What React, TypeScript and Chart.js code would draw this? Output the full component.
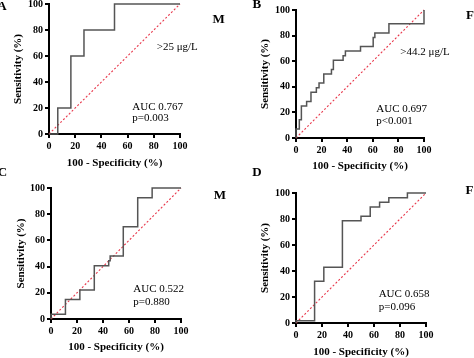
import React, { useEffect, useRef } from 'react';
import { Chart, registerables } from 'chart.js';

Chart.register(...registerables);

const CANVAS_W = 474;
const CANVAS_H = 358;
const SERIF = '"Liberation Serif", "Times New Roman", serif';

// ---- data (ROC vertices: 100 - specificity %, sensitivity %) ----
const aFpr = [0, 6.7, 6.7, 16.7, 16.7, 26.7, 26.7, 50, 50, 100];
const aSens = [0, 0, 20, 20, 60, 60, 80, 80, 100, 100];

const bFpr = [0, 0, 2.6, 2.6, 4.2, 4.2, 8.3, 8.3, 11.7, 11.7, 15.9, 15.9, 18, 18, 21.7, 21.7, 27.7, 27.7, 29.2, 29.2, 36.8, 36.8, 38.6, 38.6, 50.4, 50.4, 60.3, 60.3, 61.6, 61.6, 72.6, 72.6, 100, 100];
const bSens = [0, 7.1, 7.1, 14.3, 14.3, 25, 25, 28.6, 28.6, 35.7, 35.7, 39.3, 39.3, 42.9, 42.9, 50, 50, 53.6, 53.6, 60.7, 60.7, 64.3, 64.3, 67.9, 67.9, 71.4, 71.4, 78.6, 78.6, 82.1, 82.1, 89.3, 89.3, 100];

const cFpr = [0, 0, 11.1, 11.1, 22.2, 22.2, 33.3, 33.3, 44.4, 44.4, 45.5, 45.5, 55.6, 55.6, 66.7, 66.7, 77.8, 77.8, 100];
const cSens = [0, 3.7, 3.7, 14.8, 14.8, 22.2, 22.2, 40.7, 40.7, 44.4, 44.4, 48.1, 48.1, 70.4, 70.4, 92.6, 92.6, 100, 100];

const dFpr = [0, 0, 14.3, 14.3, 21.4, 21.4, 35.7, 35.7, 50, 50, 57.1, 57.1, 64.3, 64.3, 71.4, 71.4, 85.7, 85.7, 100];
const dSens = [0, 1.8, 1.8, 32.1, 32.1, 42.9, 42.9, 78.6, 78.6, 82.1, 82.1, 89.3, 89.3, 92.9, 92.9, 96.4, 96.4, 100, 100];

const diagX = [0, 100];
const diagY = [0, 100];

const axisTicks = [0, 20, 40, 60, 80, 100];
const xTitle = '100 - Specificity (%)';
const yTitle = 'Sensitivity (%)';

const panelLetters = ['A', 'B', 'C', 'D'];
const sexLabels = ['M', 'F', 'M', 'F'];
const cutoffLabels = ['>25 μg/L', '>44.2 μg/L', '', ''];
const aucLabels = ['AUC 0.767', 'AUC 0.697', 'AUC 0.522', 'AUC 0.658'];
const pLabels = ['p=0.003', 'p<0.001', 'p=0.880', 'p=0.096'];

// ---- layout (pixel boxes of each plot area and its axis titles) ----
const layouts = [
  { l: 49, r: 180, t: 4, b: 134, yTitleX: 18, xTitleY: 163,
    letter: [-35.9, 97.7], sex: [129.4, 88.2], cut: [82.2, 67.2], auc: [63.6, 20.5], p: [63.6, 12.1] },
  { l: 296, r: 424, t: 10, b: 138, yTitleX: 265, xTitleY: 166,
    letter: [-30.5, 103.9], sex: [135.9, 95.7], cut: [81.5, 67.4], auc: [62.7, 22.7], p: [62.7, 13.5] },
  { l: 51, r: 181, t: 188, b: 319, yTitleX: 21, xTitleY: 347,
    letter: [-37.3, 111.5], sex: [130, 93.9], cut: [0, 0], auc: [63.3, 22.9], p: [63.3, 13.2] },
  { l: 296, r: 426, t: 193, b: 323, yTitleX: 265, xTitleY: 352,
    letter: [-30, 115.4], sex: [133.5, 101.9], cut: [0, 0], auc: [63.6, 22.3], p: [63.6, 12.5] },
];

const curves = [
  [aFpr, aSens],
  [bFpr, bSens],
  [cFpr, cSens],
  [dFpr, dSens],
];

const toPoints = (xs: number[], ys: number[]) => xs.map((v, i) => ({ x: v, y: ys[i] }));

const textPlugin = {
  id: 'panelText',
  afterDraw(chart: any, _args: any, opts: any) {
    const { ctx } = chart;
    const xs = chart.scales.x;
    const ys = chart.scales.y;
    ctx.save();
    for (const t of opts.items || []) {
      if (!t.text) continue;
      ctx.font = t.font;
      ctx.fillStyle = '#000';
      ctx.textAlign = t.align;
      ctx.textBaseline = 'middle';
      ctx.fillText(t.text, xs.getPixelForValue(t.x), ys.getPixelForValue(t.y));
    }
    ctx.restore();
  },
};

function buildConfig(i: number): any {
  const L = layouts[i];
  const half = 5.5;
  const xAxisH = L.xTitleY + half - L.b;
  const yBoxLeft = L.yTitleX - half;
  const yAxisW = L.l - yBoxLeft;
  const tickFont = { family: SERIF, weight: 'bold', size: 10 };
  const titleFont = { family: SERIF, weight: 'bold', size: 11, lineHeight: 1 };
  const [fx, sy] = curves[i];
  const normal = `11px ${SERIF}`;
  const bold = `bold 13px ${SERIF}`;
  return {
    type: 'scatter',
    data: {
      datasets: [
        {
          data: toPoints(diagX, diagY),
          showLine: true,
          borderColor: '#e8364a',
          borderWidth: 1.1,
          borderDash: [2, 2],
          pointRadius: 0,
          clip: false,
          order: 2,
        },
        {
          data: toPoints(fx, sy),
          showLine: true,
          borderColor: '#555555',
          borderWidth: 1.5,
          pointRadius: 0,
          tension: 0,
          clip: false,
          order: 1,
        },
      ],
    },
    options: {
      responsive: false,
      animation: false,
      devicePixelRatio: 1,
      events: [],
      layout: {
        padding: {
          left: yBoxLeft,
          top: L.t,
          right: CANVAS_W - L.r,
          bottom: CANVAS_H - L.b - xAxisH,
        },
      },
      plugins: {
        legend: { display: false },
        tooltip: { enabled: false },
        panelText: {
          items: [
            { text: panelLetters[i], x: L.letter[0], y: L.letter[1], font: bold, align: 'center' },
            { text: sexLabels[i], x: L.sex[0], y: L.sex[1], font: bold, align: 'center' },
            { text: cutoffLabels[i], x: L.cut[0], y: L.cut[1], font: normal, align: 'left' },
            { text: aucLabels[i], x: L.auc[0], y: L.auc[1], font: normal, align: 'left' },
            { text: pLabels[i], x: L.p[0], y: L.p[1], font: normal, align: 'left' },
          ],
        },
      },
      scales: {
        x: {
          type: 'linear',
          min: 0,
          max: 100,
          afterBuildTicks: (s: any) => { s.ticks = axisTicks.map((v) => ({ value: v })); },
          afterFit: (s: any) => { s.height = xAxisH; s.paddingLeft = 0; s.paddingRight = 0; },
          ticks: { color: '#000', font: tickFont, padding: 2, maxRotation: 0, autoSkip: false },
          grid: { drawOnChartArea: false, drawTicks: true, tickLength: 4, color: '#000', lineWidth: 2 },
          border: { display: true, color: '#000', width: 2 },
          title: { display: true, text: xTitle, color: '#000', font: titleFont, padding: 0 },
        },
        y: {
          type: 'linear',
          min: 0,
          max: 100,
          afterBuildTicks: (s: any) => { s.ticks = axisTicks.map((v) => ({ value: v })); },
          afterFit: (s: any) => { s.width = yAxisW; s.paddingTop = 0; s.paddingBottom = 0; },
          ticks: { color: '#000', font: tickFont, padding: 2, autoSkip: false },
          grid: { drawOnChartArea: false, drawTicks: true, tickLength: 4, color: '#000', lineWidth: 2 },
          border: { display: true, color: '#000', width: 2 },
          title: { display: true, text: yTitle, color: '#000', font: titleFont, padding: 0 },
        },
      },
    },
    plugins: [textPlugin],
  };
}

function Panel({ index }: { index: number }) {
  const ref = useRef<HTMLCanvasElement | null>(null);
  useEffect(() => {
    if (!ref.current) return;
    const chart = new Chart(ref.current, buildConfig(index));
    return () => chart.destroy();
  }, [index]);
  return (
    <canvas
      ref={ref}
      width={CANVAS_W}
      height={CANVAS_H}
      style={{ position: 'absolute', left: 0, top: 0, width: CANVAS_W, height: CANVAS_H }}
    />
  );
}

export default function App() {
  return (
    <div
      style={{
        position: 'fixed',
        left: 0,
        top: 0,
        width: CANVAS_W,
        height: CANVAS_H,
        background: '#fff',
        overflow: 'hidden',
      }}
    >
      {[0, 1, 2, 3].map((i) => (
        <Panel key={i} index={i} />
      ))}
    </div>
  );
}
